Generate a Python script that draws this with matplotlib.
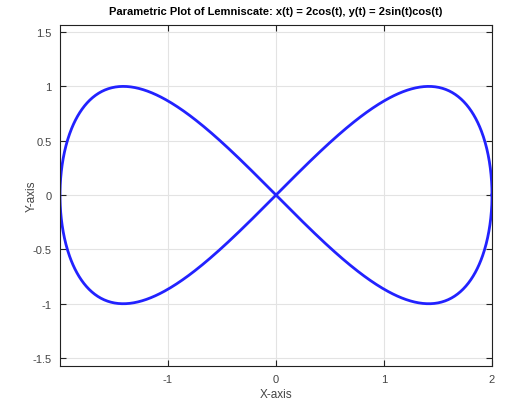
import matplotlib.pyplot as plt
import numpy as np

plt.rcParams['font.family'] = ['Liberation Sans', 'DejaVu Sans']

# curve from the title: x = 2cos(t), y = 2sin(t)cos(t)
t = np.linspace(0, 2*np.pi, 1000)
x = 2*np.cos(t)
y = 2*np.sin(t)*np.cos(t)

x_ticks = [-1, 0, 1, 2]
y_ticks = [-1.5, -1, -0.5, 0, 0.5, 1, 1.5]
y_labels = ['-1.5', '-1', '-0.5', '0', '0.5', '1', '1.5']

fig = plt.figure(figsize=(5.1, 4.1), dpi=100)
ax = fig.add_axes([60/510, 43/410, 432/510, 341/410])

ax.plot(x, y, color='#2222ff', linewidth=2.0)

ax.set_xlim(-2, 2)
ax.set_ylim(-1.573, 1.565)
ax.set_xticks(x_ticks)
ax.set_xticklabels([str(v) for v in x_ticks])
ax.set_yticks(y_ticks)
ax.set_yticklabels(y_labels)

ax.grid(True, color='#e3e3e3', linewidth=0.8)
ax.set_axisbelow(True)
ax.tick_params(direction='in', top=True, right=True, length=4, width=0.8,
               labelsize=8, labelcolor='#444444', color='#222222', pad=6)
for s in ax.spines.values():
    s.set_color('#222222')
    s.set_linewidth(0.8)

ax.set_xlabel('X-axis', fontsize=8.5, color='#444444', labelpad=3)
ax.set_ylabel('Y-axis', fontsize=8.5, color='#444444', labelpad=-4)
ax.set_title('Parametric Plot of Lemniscate: x(t) = 2cos(t), y(t) = 2sin(t)cos(t)',
             fontsize=8, fontweight='bold', pad=8)

fig.savefig('out.png')
